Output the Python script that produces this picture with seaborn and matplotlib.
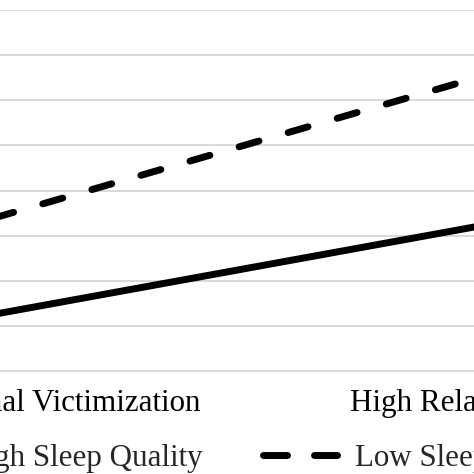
import pandas as pd
import matplotlib.pyplot as plt
import seaborn as sns
from matplotlib.lines import Line2D

# values (y scale assumed 1..5, gridlines every 0.5)
categories = ["Low Relational Victimization", "High Relational Victimization"]
series_names = ["High Sleep Quality", "Low Sleep Quality"]
high_sleep = [1.60, 2.72]
low_sleep = [2.65, 4.44]
y_ticks = [1.0, 1.5, 2.0, 2.5, 3.0, 3.5, 4.0, 4.5, 5.0]

df = pd.DataFrame({
    "victimization": categories * 2,
    "value": high_sleep + low_sleep,
    "sleep": [series_names[0]] * 2 + [series_names[1]] * 2,
})

sns.set_theme(style="white")
plt.rcParams["font.family"] = ["Liberation Serif", "DejaVu Serif"]

FS = 22.3
LW = 5.0
LW_PX = LW / 72 * 100
GRID = "#d9d9d9"

fig = plt.figure(figsize=(4.74, 4.74), dpi=100)
# the picture is a crop of a wider chart: the plot area runs past both edges
ax = fig.add_axes([-298 / 474, 103 / 474, 1112 / 474, 361 / 474])

sns.lineplot(data=df, x="victimization", y="value", hue="sleep",
             palette=["black", "black"], errorbar=None, legend=False,
             sort=False, ax=ax, linewidth=LW)

solid, dashed = ax.lines[0], ax.lines[1]
solid.set_solid_capstyle("butt")
dashed.set_linestyle((5.5 / LW_PX, (20.7 / LW_PX, 30.4 / LW_PX)))
dashed.set_dash_capstyle("round")

ax.set_xlim(-0.5, 1.5)
ax.set_ylim(y_ticks[0], y_ticks[-1])
ax.set_yticks(y_ticks)
# the left label sits a little right of its point in the crop
ax.set_xticks([36.6 / 556, 1.0], labels=categories)
ax.yaxis.grid(True, color=GRID, linewidth=1.4)
ax.set_axisbelow(True)
ax.tick_params(axis="x", length=0, pad=13, labelsize=FS, labelcolor="black")
ax.tick_params(axis="y", length=0, labelleft=False)
ax.set_xlabel("")
ax.set_ylabel("")
for side in ["top", "left", "right"]:
    ax.spines[side].set_visible(False)
ax.spines["bottom"].set_color(GRID)
ax.spines["bottom"].set_linewidth(1.4)

fs_px = FS / 72 * 100
handles = [
    Line2D([], [], color="black", linewidth=LW, solid_capstyle="butt"),
    Line2D([], [], color="black", linewidth=LW, dash_capstyle="round",
           linestyle=(0, (24 / LW_PX, 27 / LW_PX))),
]
fig.legend(handles, series_names, loc="lower left",
           bbox_to_anchor=(-129 / 474, 0.003), bbox_transform=fig.transFigure,
           ncol=2, frameon=False, fontsize=FS, borderpad=0, borderaxespad=0,
           handlelength=74 / fs_px, handletextpad=18 / fs_px,
           columnspacing=60 / fs_px)

fig.savefig("out.png", dpi=100, facecolor="white")
